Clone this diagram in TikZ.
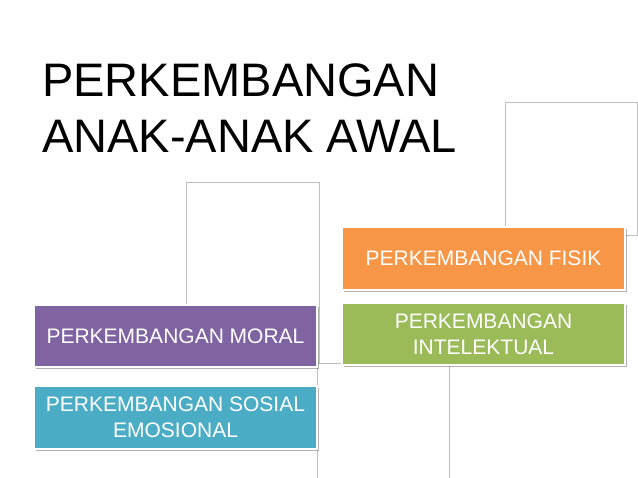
\documentclass[tikz,border=0pt]{standalone}
\usepackage{fontspec}
\setmainfont{Liberation Sans}
\usetikzlibrary{shadows}

\definecolor{oranye}{HTML}{F79646}
\definecolor{hijau}{HTML}{9BBB59}
\definecolor{ungu}{HTML}{8064A2}
\definecolor{biru}{HTML}{4BACC6}

\begin{document}
\begin{tikzpicture}[x=1pt, y=-1pt,
    kotak/.style={rectangle, draw=white, line width=1.2pt, minimum width=283pt, minimum height=62pt, inner sep=2pt, align=center, text=white, font=\fontsize{21}{26}\selectfont, drop shadow={shadow xshift=1.5pt, shadow yshift=-2pt, fill=black, opacity=0.3}},
    bingkai/.style={draw=black!25, line width=0.6pt}]
    \useasboundingbox (0,0) rectangle (638,478);
    \clip (0,0) rectangle (638,478);

    \node[anchor=base west, inner sep=0pt, font=\fontsize{47}{56}\selectfont] (judul1) at (42,97) {PERKEMBANGAN};
    \node[anchor=base west, inner sep=0pt, font=\fontsize{47}{56}\selectfont] (judul2) at (42,153) {ANAK-ANAK AWAL};

    \draw[bingkai] (186,182) rectangle (319.5,363);
    \draw[bingkai] (505,102) rectangle (637,235);
    \draw[bingkai] (317,363) rectangle (449,490);

    \node[kotak, fill=oranye, minimum height=63pt] (fisik) at (483.5,258.5) {PERKEMBANGAN FISIK};
    \node[kotak, fill=hijau] (intelektual) at (483.5,334) {PERKEMBANGAN\\INTELEKTUAL};
    \node[kotak, fill=ungu] (moral) at (175.5,336) {PERKEMBANGAN MORAL};
    \node[kotak, fill=biru, minimum height=63pt] (sosial) at (175.5,417.5) {PERKEMBANGAN SOSIAL\\EMOSIONAL};
\end{tikzpicture}
\end{document}
